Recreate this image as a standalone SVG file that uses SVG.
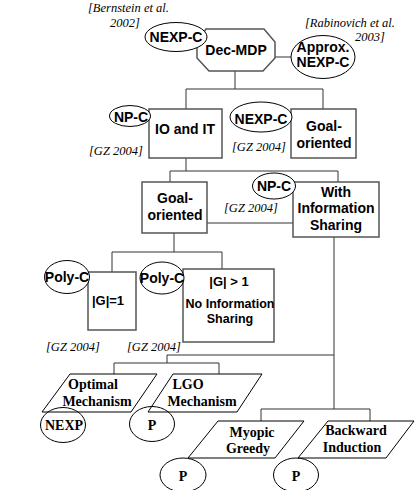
<svg xmlns="http://www.w3.org/2000/svg" width="417" height="490" viewBox="0 0 417 490">
<style>
.box{fill:#fff;stroke:#555;stroke-width:1.5}
.ell{fill:#fff;stroke:#000;stroke-width:1}
.elln{fill:none;stroke:#000;stroke-width:1}
.conn{stroke:#333;stroke-width:1;fill:none}
.t{font-family:"Liberation Sans",Arial,sans-serif;font-weight:bold;font-size:14px;text-anchor:middle;fill:#000}
.s{font-family:"Liberation Serif","Times New Roman",serif;font-weight:bold;font-size:14px;text-anchor:middle;fill:#000}
.c{font-family:"Liberation Serif","Times New Roman",serif;font-style:italic;font-size:12.5px;fill:#000}
</style>
<rect width="417" height="490" fill="#fff"/>
<g id="connectors">
<path class="conn" d="M275,57H291"/>
<path class="conn" d="M235,71V89M186,109V89H323V109"/>
<path class="conn" d="M186,158V171M170,182V171H338V182"/>
<path class="conn" d="M207,223H293"/>
<path class="conn" d="M174,233V252M112,272V252H222V269"/>
<path class="conn" d="M334,237V409M167,355H334M167,355V363M114,374V363H219V374"/>
<path class="conn" d="M261,421V409H370V421"/>
</g>
<g id="dec-mdp">
<path class="box" d="M206,29H264L275,42V58L263,71H209L197,58V42Z"/>
<text class="t" x="236" y="55">Dec-MDP</text>
</g>
<g id="nexp-c-top">
<ellipse class="ell" cx="176" cy="37" rx="31" ry="14.5"/>
<text class="t" x="176" y="42">NEXP-C</text>
</g>
<g id="cite-bernstein">
<text class="c" x="88" y="12">[Bernstein et al.</text>
<text class="c" x="110" y="27">2002]</text>
</g>
<g id="approx">
<ellipse class="ell" cx="323" cy="57" rx="32" ry="21.5"/>
<text class="t" x="323" y="52">Approx.</text>
<text class="t" x="323" y="67">NEXP-C</text>
</g>
<g id="cite-rabinovich">
<text class="c" x="305" y="27">[Rabinovich et al.</text>
<text class="c" x="355" y="41">2003]</text>
</g>
<g id="io-it">
<rect class="box" x="149" y="109" width="73" height="49"/>
<text class="t" x="185" y="134">IO and IT</text>
</g>
<g id="np-c-1">
<ellipse class="ell" cx="130" cy="116" rx="20.5" ry="10.5"/>
<text class="t" x="131" y="122">NP-C</text>
<text class="c" x="89" y="155">[GZ 2004]</text>
</g>
<g id="goal-oriented-1">
<rect class="box" x="291" y="109" width="65" height="49"/>
<text class="t" x="324" y="131">Goal-</text>
<text class="t" x="324" y="148">oriented</text>
</g>
<g id="nexp-c-2">
<ellipse class="ell" cx="261" cy="117" rx="31" ry="15"/>
<text class="t" x="261" y="124">NEXP-C</text>
<text class="c" x="232" y="151">[GZ 2004]</text>
</g>
<g id="goal-oriented-2">
<rect class="box" x="142" y="182" width="65" height="51"/>
<text class="t" x="175" y="203">Goal-</text>
<text class="t" x="175" y="220">oriented</text>
</g>
<g id="with-info">
<rect class="box" x="293" y="182" width="86" height="55"/>
<text class="t" x="336" y="197">With</text>
<text class="t" x="336" y="213">Information</text>
<text class="t" x="336" y="230">Sharing</text>
</g>
<g id="np-c-2">
<ellipse class="ell" cx="274" cy="186" rx="21.5" ry="13"/>
<text class="t" x="274" y="191">NP-C</text>
<text class="c" x="224" y="212">[GZ 2004]</text>
</g>
<g id="g-eq-1">
<rect class="box" x="88" y="272" width="48" height="58"/>
<text class="t" x="108" y="305" style="font-size:13px">|G|=1</text>
</g>
<g id="poly-c-1">
<ellipse class="ell" cx="67" cy="277" rx="22.5" ry="16.5"/>
<text class="t" x="67" y="282">Poly-C</text>
<text class="c" x="46" y="351">[GZ 2004]</text>
</g>
<g id="g-gt-1">
<rect class="box" x="183" y="269" width="91" height="73"/>
<text class="t" x="229" y="286" style="font-size:13px">|G| &gt; 1</text>
<text class="t" x="230" y="308" style="font-size:12.5px">No Information</text>
<text class="t" x="230" y="323" style="font-size:12.5px">Sharing</text>
</g>
<g id="poly-c-2">
<ellipse class="ell" cx="162" cy="278" rx="22" ry="16"/>
<text class="t" x="162" y="283">Poly-C</text>
<text class="c" x="127" y="351">[GZ 2004]</text>
</g>
<g id="nexp">
<ellipse class="ell" cx="63" cy="425" rx="22.5" ry="17.5"/>
<text class="s" x="64" y="430">NEXP</text>
</g>
<g id="p-1">
<ellipse class="ell" cx="152" cy="424" rx="22.5" ry="17.5"/>
<text class="s" x="152" y="430">P</text>
</g>
<g id="p-2">
<ellipse class="ell" cx="183" cy="475" rx="23" ry="17"/>
<text class="s" x="183" y="481">P</text>
</g>
<g id="p-3">
<ellipse class="ell" cx="296" cy="475" rx="22.5" ry="17"/>
<text class="s" x="296" y="481">P</text>
</g>
<g id="optimal">
<path class="box" style="stroke:#000;stroke-width:1;fill:none" d="M70,374H157L131,412H42Z"/>
<text class="s" x="93" y="389">Optimal</text>
<text class="s" x="97" y="406">Mechanism</text>
</g>
<g id="lgo">
<path class="box" style="stroke:#000;stroke-width:1;fill:none" d="M173,374H262L237,412H148Z"/>
<text class="s" x="188" y="389">LGO</text>
<text class="s" x="202" y="406">Mechanism</text>
</g>
<g id="myopic">
<path class="box" style="stroke:#000;stroke-width:1;fill:none" d="M218,421H304L275,458H188Z"/>
<text class="s" x="252" y="437">Myopic</text>
<text class="s" x="248" y="453">Greedy</text>
</g>
<g id="backward">
<path class="box" style="stroke:#000;stroke-width:1;fill:none" d="M328,421H414L386,458H298Z"/>
<text class="s" x="356" y="435">Backward</text>
<text class="s" x="352" y="452">Induction</text>
</g>
</svg>
